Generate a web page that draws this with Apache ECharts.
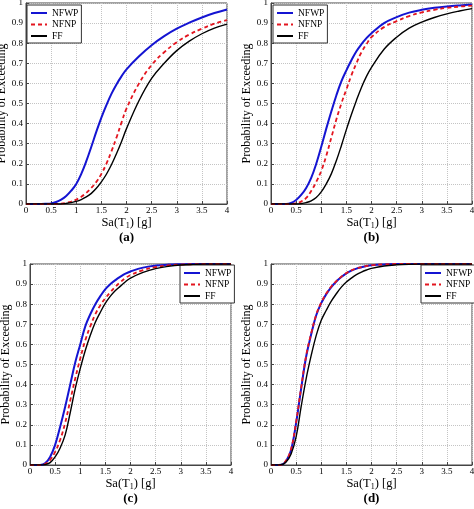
<!DOCTYPE html>
<html>
<head>
<meta charset="utf-8">
<script src="https://cdn.jsdelivr.net/npm/echarts/dist/echarts.min.js"></script>
<style>
  html, body { margin: 0; padding: 0; background: #fff; }
  #chart { width: 474px; height: 509px; }
</style>
</head>
<body>
<div id="chart"></div>
<script>
// Sa(T1) sample points shared by every curve
var xs = [0, 0.1, 0.2, 0.3, 0.4, 0.5, 0.6, 0.7, 0.8, 0.9, 1.0, 1.1, 1.2, 1.3, 1.4, 1.5,
          1.6, 1.7, 1.8, 1.9, 2.0, 2.25, 2.5, 2.75, 3, 3.25, 3.5, 3.75, 4];

// panel (a)
var aNfwp = [0, 0, 0, 0, 0.001, 0.003, 0.01, 0.022, 0.04, 0.066, 0.1, 0.15, 0.213, 0.285, 0.36, 0.43,
             0.492, 0.548, 0.595, 0.635, 0.67, 0.735, 0.79, 0.835, 0.872, 0.902, 0.928, 0.95, 0.968];
var aNfnp = [0, 0, 0, 0, 0, 0, 0, 0.002, 0.006, 0.012, 0.022, 0.036, 0.055, 0.08, 0.11, 0.15,
             0.2, 0.262, 0.33, 0.405, 0.475, 0.6, 0.692, 0.755, 0.805, 0.843, 0.872, 0.897, 0.915];
var aFf   = [0, 0, 0, 0, 0, 0, 0, 0, 0.003, 0.007, 0.013, 0.022, 0.035, 0.053, 0.078, 0.11,
             0.148, 0.195, 0.25, 0.31, 0.375, 0.515, 0.625, 0.7, 0.763, 0.81, 0.847, 0.875, 0.895];
// panel (b)
var bNfwp = [0, 0, 0, 0, 0.005, 0.02, 0.045, 0.08, 0.13, 0.2, 0.285, 0.375, 0.46, 0.54, 0.61, 0.665,
             0.715, 0.76, 0.795, 0.825, 0.85, 0.9, 0.93, 0.952, 0.966, 0.976, 0.983, 0.988, 0.992];
var bNfnp = [0, 0, 0, 0, 0, 0.004, 0.012, 0.03, 0.065, 0.11, 0.165, 0.24, 0.33, 0.42, 0.5, 0.57,
             0.64, 0.7, 0.755, 0.795, 0.83, 0.88, 0.91, 0.935, 0.953, 0.966, 0.976, 0.982, 0.987];
var bFf   = [0, 0, 0, 0, 0, 0, 0.002, 0.007, 0.016, 0.032, 0.06, 0.1, 0.15, 0.215, 0.29, 0.37,
             0.445, 0.515, 0.58, 0.635, 0.68, 0.77, 0.83, 0.875, 0.905, 0.928, 0.946, 0.96, 0.972];
// panel (c)
var cNfwp = [0, 0, 0, 0.008, 0.04, 0.1, 0.19, 0.29, 0.4, 0.51, 0.6, 0.69, 0.75, 0.8, 0.84, 0.875,
             0.9, 0.92, 0.937, 0.952, 0.963, 0.982, 0.992, 0.997, 0.999, 1, 1, 1, 1];
var cNfnp = [0, 0, 0, 0.005, 0.025, 0.065, 0.125, 0.21, 0.32, 0.43, 0.53, 0.62, 0.69, 0.75, 0.795, 0.83,
             0.86, 0.887, 0.91, 0.93, 0.945, 0.97, 0.985, 0.993, 0.997, 0.999, 1, 1, 1];
var cFf   = [0, 0, 0, 0.002, 0.012, 0.04, 0.085, 0.15, 0.26, 0.38, 0.48, 0.57, 0.645, 0.71, 0.76, 0.805,
             0.84, 0.868, 0.89, 0.912, 0.93, 0.958, 0.977, 0.988, 0.995, 0.998, 1, 1, 1];
// panel (d)
var dNfwp = [0, 0, 0.001, 0.02, 0.075, 0.21, 0.38, 0.54, 0.65, 0.745, 0.805, 0.85, 0.885, 0.913, 0.935, 0.953,
             0.967, 0.977, 0.984, 0.99, 0.994, 0.998, 1, 1, 1, 1, 1, 1, 1];
var dNfnp = [0, 0, 0.001, 0.022, 0.08, 0.215, 0.385, 0.545, 0.655, 0.748, 0.808, 0.853, 0.888, 0.915, 0.937, 0.955,
             0.968, 0.978, 0.985, 0.99, 0.994, 0.998, 1, 1, 1, 1, 1, 1, 1];
var dFf   = [0, 0, 0.001, 0.015, 0.055, 0.14, 0.29, 0.43, 0.545, 0.645, 0.72, 0.77, 0.815, 0.852, 0.885, 0.91,
             0.93, 0.947, 0.96, 0.97, 0.978, 0.99, 0.996, 0.999, 1, 1, 1, 1, 1];

var seriesNames = ['NFWP', 'NFNP', 'FF'];
var panelTags = ['(a)', '(b)', '(c)', '(d)'];
var xTicks = [0, 0.5, 1, 1.5, 2, 2.5, 3, 3.5, 4];

var FONT = '"Liberation Serif", "Times New Roman", serif';
var chart = echarts.init(document.getElementById('chart'));

var panels = [
  { left: 26,  top: 3,   curves: [aNfwp, aNfnp, aFf], yGap: 12.5, legend: { left: 27,  top: 5 } },
  { left: 271, top: 3,   curves: [bNfwp, bNfnp, bFf], yGap: 15,   legend: { left: 273, top: 5 } },
  { left: 30,  top: 264, curves: [cNfwp, cNfnp, cFf], yGap: 16.5, legend: { left: 180, top: 265 } },
  { left: 271, top: 264, curves: [dNfwp, dNfnp, dFf], yGap: 16,   legend: { left: 421, top: 265 } }
];
var W = 201, H = 201;

var lineStyles = [
  { color: '#1414d2', width: 2, type: 'solid' },
  { color: '#e3151f', width: 1.8, type: [4, 3] },
  { color: '#000000', width: 1.4, type: 'solid' }
];

function pts(ps) {
  return xs.map(function (x, i) { return [x, ps[i]]; });
}

var grids = [], xAxes = [], yAxes = [], series = [], legends = [], graphics = [];

panels.forEach(function (p, g) {
  grids.push({
    left: p.left, top: p.top, width: W, height: H,
    show: true, borderColor: '#444', borderWidth: 1, backgroundColor: '#fff',
    outerBoundsMode: 'none', containLabel: false
  });
  xAxes.push({
    type: 'value', gridIndex: g, min: 0, max: 4, interval: 0.5,
    name: 'Sa(T{s|1}) [g]', nameLocation: 'middle', nameGap: 8,
    nameTextStyle: {
      fontFamily: FONT, fontSize: 12.5, color: '#000', lineHeight: 14,
      rich: { s: { fontFamily: FONT, fontSize: 8, color: '#000', lineHeight: 14, verticalAlign: 'bottom', padding: [5, 0, 0, 0] } }
    },
    axisLine: { show: true, onZero: false, lineStyle: { color: '#444', width: 1 } },
    axisTick: { show: true, inside: true, length: 3, lineStyle: { color: '#444' } },
    axisLabel: { margin: 2, fontFamily: FONT, fontSize: 9, color: '#000',
      formatter: function (v) { return xTicks.indexOf(v) >= 0 ? String(v) : ''; } },
    splitLine: { show: true, lineStyle: { type: 'dotted', color: '#c4c4c4', width: 1 } }
  });
  yAxes.push({
    type: 'value', gridIndex: g, min: 0, max: 1, interval: 0.1,
    name: 'Probability of Exceeding', nameLocation: 'middle', nameGap: p.yGap,
    nameTextStyle: { fontFamily: FONT, fontSize: 12, color: '#000' },
    axisLine: { show: true, onZero: false, lineStyle: { color: '#444', width: 1 } },
    axisTick: { show: true, inside: true, length: 3, lineStyle: { color: '#444' } },
    axisLabel: { margin: 3, fontFamily: FONT, fontSize: 9, color: '#000',
      formatter: function (v) { return String(Math.round(v * 10) / 10); } },
    splitLine: { show: true, lineStyle: { type: 'dotted', color: '#c4c4c4', width: 1 } }
  });
  p.curves.forEach(function (c, k) {
    series.push({
      name: seriesNames[k], type: 'line', xAxisIndex: g, yAxisIndex: g,
      data: pts(c), smooth: 0.4, symbol: 'none',
      lineStyle: lineStyles[k], itemStyle: { color: lineStyles[k].color },
      z: 3 + k, animation: false
    });
  });
  legends.push({
    left: p.legend.left, top: p.legend.top, orient: 'vertical',
    data: seriesNames, itemWidth: 16, itemHeight: 9, itemGap: 1.5,
    padding: [3, 3, 2, 3], backgroundColor: '#fff', borderColor: '#333', borderWidth: 1,
    itemStyle: { opacity: 0 },
    textStyle: { fontFamily: FONT, fontSize: 9.5, color: '#000', lineHeight: 9 },
    selectedMode: false
  });
  graphics.push({
    type: 'text', x: p.left + W / 2, y: p.top + H + 34,
    style: { text: panelTags[g], fontFamily: FONT, fontSize: 13, fontWeight: 'bold',
      fill: '#000', align: 'center', verticalAlign: 'middle' }
  });
});

var option = {
  backgroundColor: '#fff',
  animation: false,
  grid: grids,
  xAxis: xAxes,
  yAxis: yAxes,
  legend: legends,
  series: series,
  graphic: graphics
};

option && chart.setOption(option);
</script>
</body>
</html>
